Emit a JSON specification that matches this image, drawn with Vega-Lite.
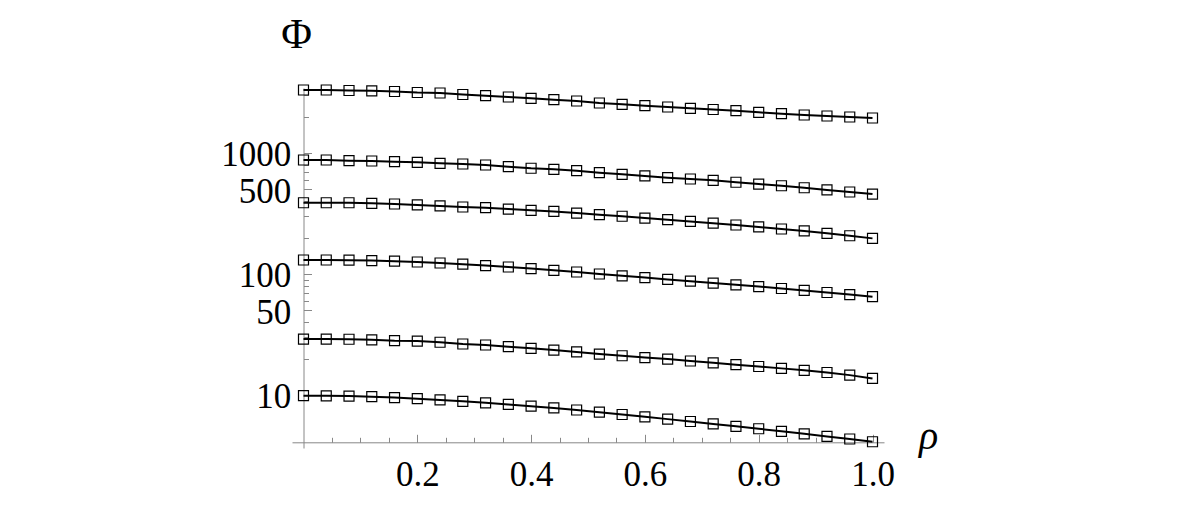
{
  "$schema": "https://vega.github.io/schema/vega-lite/v6.json",
  "width": 592,
  "height": 360,
  "autosize": {"type": "none"},
  "padding": {"left": 292, "top": 88, "right": 302, "bottom": 80},
  "background": "white",
  "config": {
    "view": {"stroke": null},
    "axis": {
      "grid": false,
      "labelFont": "Liberation Serif",
      "labelFontSize": 35,
      "labelColor": "black",
      "titleFont": "Liberation Serif",
      "titleColor": "black",
      "titleFontWeight": "normal",
      "domainColor": "#888",
      "tickColor": "#888",
      "labelFlush": false,
      "labelOverlap": false
    }
  },
  "data": {
    "values": [
      {"rho": 0, "curve": 1, "phi": 3317}, {"rho": 0.04, "curve": 1, "phi": 3317}, {"rho": 0.08, "curve": 1, "phi": 3285}, {"rho": 0.12, "curve": 1, "phi": 3266}, {"rho": 0.16, "curve": 1, "phi": 3222}, {"rho": 0.2, "curve": 1, "phi": 3162}, {"rho": 0.24, "curve": 1, "phi": 3133}, {"rho": 0.28, "curve": 1, "phi": 3045}, {"rho": 0.32, "curve": 1, "phi": 2976}, {"rho": 0.36, "curve": 1, "phi": 2903}, {"rho": 0.4, "curve": 1, "phi": 2832}, {"rho": 0.44, "curve": 1, "phi": 2757}, {"rho": 0.48, "curve": 1, "phi": 2690}, {"rho": 0.52, "curve": 1, "phi": 2589}, {"rho": 0.56, "curve": 1, "phi": 2526}, {"rho": 0.6, "curve": 1, "phi": 2460}, {"rho": 0.64, "curve": 1, "phi": 2400}, {"rho": 0.68, "curve": 1, "phi": 2341}, {"rho": 0.72, "curve": 1, "phi": 2288}, {"rho": 0.76, "curve": 1, "phi": 2237}, {"rho": 0.8, "curve": 1, "phi": 2169}, {"rho": 0.84, "curve": 1, "phi": 2112}, {"rho": 0.88, "curve": 1, "phi": 2061}, {"rho": 0.92, "curve": 1, "phi": 2022}, {"rho": 0.96, "curve": 1, "phi": 1984}, {"rho": 1.0, "curve": 1, "phi": 1947},
      {"rho": 0, "curve": 2, "phi": 875}, {"rho": 0.04, "curve": 2, "phi": 875}, {"rho": 0.08, "curve": 2, "phi": 864}, {"rho": 0.12, "curve": 2, "phi": 859}, {"rho": 0.16, "curve": 2, "phi": 848}, {"rho": 0.2, "curve": 2, "phi": 838}, {"rho": 0.24, "curve": 2, "phi": 822}, {"rho": 0.28, "curve": 2, "phi": 811}, {"rho": 0.32, "curve": 2, "phi": 796}, {"rho": 0.36, "curve": 2, "phi": 771}, {"rho": 0.4, "curve": 2, "phi": 748}, {"rho": 0.44, "curve": 2, "phi": 733}, {"rho": 0.48, "curve": 2, "phi": 714}, {"rho": 0.52, "curve": 2, "phi": 688}, {"rho": 0.56, "curve": 2, "phi": 667}, {"rho": 0.6, "curve": 2, "phi": 646}, {"rho": 0.64, "curve": 2, "phi": 625}, {"rho": 0.68, "curve": 2, "phi": 610}, {"rho": 0.72, "curve": 2, "phi": 595}, {"rho": 0.76, "curve": 2, "phi": 573}, {"rho": 0.8, "curve": 2, "phi": 554}, {"rho": 0.84, "curve": 2, "phi": 536}, {"rho": 0.88, "curve": 2, "phi": 516}, {"rho": 0.92, "curve": 2, "phi": 495.5}, {"rho": 0.96, "curve": 2, "phi": 476}, {"rho": 1.0, "curve": 2, "phi": 458},
      {"rho": 0, "curve": 3, "phi": 388}, {"rho": 0.04, "curve": 3, "phi": 388}, {"rho": 0.08, "curve": 3, "phi": 388}, {"rho": 0.12, "curve": 3, "phi": 384}, {"rho": 0.16, "curve": 3, "phi": 379}, {"rho": 0.2, "curve": 3, "phi": 372}, {"rho": 0.24, "curve": 3, "phi": 365}, {"rho": 0.28, "curve": 3, "phi": 358}, {"rho": 0.32, "curve": 3, "phi": 353}, {"rho": 0.36, "curve": 3, "phi": 344}, {"rho": 0.4, "curve": 3, "phi": 336}, {"rho": 0.44, "curve": 3, "phi": 329}, {"rho": 0.48, "curve": 3, "phi": 319}, {"rho": 0.52, "curve": 3, "phi": 309}, {"rho": 0.56, "curve": 3, "phi": 300}, {"rho": 0.6, "curve": 3, "phi": 290}, {"rho": 0.64, "curve": 3, "phi": 281}, {"rho": 0.68, "curve": 3, "phi": 272}, {"rho": 0.72, "curve": 3, "phi": 263}, {"rho": 0.76, "curve": 3, "phi": 254}, {"rho": 0.8, "curve": 3, "phi": 245}, {"rho": 0.84, "curve": 3, "phi": 235.5}, {"rho": 0.88, "curve": 3, "phi": 227}, {"rho": 0.92, "curve": 3, "phi": 217}, {"rho": 0.96, "curve": 3, "phi": 207}, {"rho": 1.0, "curve": 3, "phi": 197},
      {"rho": 0, "curve": 4, "phi": 130.5}, {"rho": 0.04, "curve": 4, "phi": 130.5}, {"rho": 0.08, "curve": 4, "phi": 130.0}, {"rho": 0.12, "curve": 4, "phi": 129.0}, {"rho": 0.16, "curve": 4, "phi": 127.6}, {"rho": 0.2, "curve": 4, "phi": 125.7}, {"rho": 0.24, "curve": 4, "phi": 123.3}, {"rho": 0.28, "curve": 4, "phi": 120.5}, {"rho": 0.32, "curve": 4, "phi": 117.5}, {"rho": 0.36, "curve": 4, "phi": 114.3}, {"rho": 0.4, "curve": 4, "phi": 110.8}, {"rho": 0.44, "curve": 4, "phi": 107.3}, {"rho": 0.48, "curve": 4, "phi": 103.9}, {"rho": 0.52, "curve": 4, "phi": 100.0}, {"rho": 0.56, "curve": 4, "phi": 96.6}, {"rho": 0.6, "curve": 4, "phi": 93.4}, {"rho": 0.64, "curve": 4, "phi": 90.2}, {"rho": 0.68, "curve": 4, "phi": 87.2}, {"rho": 0.72, "curve": 4, "phi": 84.2}, {"rho": 0.76, "curve": 4, "phi": 81.4}, {"rho": 0.8, "curve": 4, "phi": 78.7}, {"rho": 0.84, "curve": 4, "phi": 75.9}, {"rho": 0.88, "curve": 4, "phi": 73.1}, {"rho": 0.92, "curve": 4, "phi": 70.3}, {"rho": 0.96, "curve": 4, "phi": 67.6}, {"rho": 1.0, "curve": 4, "phi": 64.9},
      {"rho": 0, "curve": 5, "phi": 29.0}, {"rho": 0.04, "curve": 5, "phi": 29.0}, {"rho": 0.08, "curve": 5, "phi": 28.9}, {"rho": 0.12, "curve": 5, "phi": 28.6}, {"rho": 0.16, "curve": 5, "phi": 28.1}, {"rho": 0.2, "curve": 5, "phi": 27.9}, {"rho": 0.24, "curve": 5, "phi": 27.3}, {"rho": 0.28, "curve": 5, "phi": 26.4}, {"rho": 0.32, "curve": 5, "phi": 25.9}, {"rho": 0.36, "curve": 5, "phi": 25.1}, {"rho": 0.4, "curve": 5, "phi": 24.3}, {"rho": 0.44, "curve": 5, "phi": 23.5}, {"rho": 0.48, "curve": 5, "phi": 22.7}, {"rho": 0.52, "curve": 5, "phi": 21.8}, {"rho": 0.56, "curve": 5, "phi": 21.1}, {"rho": 0.6, "curve": 5, "phi": 20.4}, {"rho": 0.64, "curve": 5, "phi": 19.8}, {"rho": 0.68, "curve": 5, "phi": 19.1}, {"rho": 0.72, "curve": 5, "phi": 18.45}, {"rho": 0.76, "curve": 5, "phi": 17.8}, {"rho": 0.8, "curve": 5, "phi": 17.2}, {"rho": 0.84, "curve": 5, "phi": 16.6}, {"rho": 0.88, "curve": 5, "phi": 16.0}, {"rho": 0.92, "curve": 5, "phi": 15.35}, {"rho": 0.96, "curve": 5, "phi": 14.6}, {"rho": 1.0, "curve": 5, "phi": 13.7},
      {"rho": 0, "curve": 6, "phi": 9.87}, {"rho": 0.04, "curve": 6, "phi": 9.85}, {"rho": 0.08, "curve": 6, "phi": 9.79}, {"rho": 0.12, "curve": 6, "phi": 9.68}, {"rho": 0.16, "curve": 6, "phi": 9.52}, {"rho": 0.2, "curve": 6, "phi": 9.32}, {"rho": 0.24, "curve": 6, "phi": 9.11}, {"rho": 0.28, "curve": 6, "phi": 8.87}, {"rho": 0.32, "curve": 6, "phi": 8.62}, {"rho": 0.36, "curve": 6, "phi": 8.36}, {"rho": 0.4, "curve": 6, "phi": 8.09}, {"rho": 0.44, "curve": 6, "phi": 7.82}, {"rho": 0.48, "curve": 6, "phi": 7.52}, {"rho": 0.52, "curve": 6, "phi": 7.21}, {"rho": 0.56, "curve": 6, "phi": 6.90}, {"rho": 0.6, "curve": 6, "phi": 6.60}, {"rho": 0.64, "curve": 6, "phi": 6.32}, {"rho": 0.68, "curve": 6, "phi": 6.04}, {"rho": 0.72, "curve": 6, "phi": 5.77}, {"rho": 0.76, "curve": 6, "phi": 5.51}, {"rho": 0.8, "curve": 6, "phi": 5.26}, {"rho": 0.84, "curve": 6, "phi": 5.01}, {"rho": 0.88, "curve": 6, "phi": 4.78}, {"rho": 0.92, "curve": 6, "phi": 4.55}, {"rho": 0.96, "curve": 6, "phi": 4.33}, {"rho": 1.0, "curve": 6, "phi": 4.11}
    ]
  },
  "layer": [
    {
      "mark": {"type": "line", "color": "black", "strokeWidth": 2},
      "encoding": {
        "x": {
          "field": "rho", "type": "quantitative",
          "scale": {"domain": [-0.0202, 1.0202], "nice": false, "zero": false},
          "axis": {
            "orient": "bottom", "offset": -5.7,
            "values": [0.2, 0.4, 0.6, 0.8, 1.0], "format": ".1f",
            "tickSize": -8, "labelPadding": 50.7, "labelBaseline": "alphabetic",
            "title": "ρ", "titleFontSize": 40, "titleFontStyle": "italic",
            "titleX": 636, "titleY": 5.7, "titleAlign": "center", "titleBaseline": "alphabetic", "titleAngle": 0
          }
        },
        "y": {
          "field": "phi", "type": "quantitative",
          "scale": {"type": "log", "domain": [3.648, 3445], "nice": false, "zero": false},
          "axis": {
            "orient": "left", "offset": -11.5,
            "values": [10, 50, 100, 500, 1000], "format": "d",
            "tickSize": -8, "labelPadding": 20.8, "labelBaseline": "alphabetic", "labelOffset": 12.7,
            "title": "Φ", "titleFontSize": 42,
            "titleX": -7.5, "titleY": -40.3, "titleAlign": "center", "titleBaseline": "alphabetic", "titleAngle": 0
          }
        },
        "detail": {"field": "curve", "type": "nominal"}
      }
    },
    {
      "mark": {"type": "point", "shape": "square", "filled": false, "color": "black", "size": 100, "strokeWidth": 1.2, "opacity": 1},
      "encoding": {
        "x": {
          "field": "rho", "type": "quantitative",
          "axis": {
            "orient": "bottom", "offset": -5.7,
            "values": [0.05, 0.1, 0.15, 0.25, 0.3, 0.35, 0.45, 0.5, 0.55, 0.65, 0.7, 0.75, 0.85, 0.9, 0.95],
            "tickSize": -5, "labels": false, "domain": false, "title": null
          }
        },
        "y": {
          "field": "phi", "type": "quantitative",
          "axis": {
            "orient": "left", "offset": -11.5,
            "values": [20, 30, 40, 60, 70, 80, 90, 200, 300, 400, 600, 700, 800, 900, 2000, 3000],
            "tickSize": -5, "labels": false, "domain": false, "title": null
          }
        },
        "detail": {"field": "curve", "type": "nominal"}
      }
    }
  ],
  "resolve": {"axis": {"x": "independent", "y": "independent"}}
}
